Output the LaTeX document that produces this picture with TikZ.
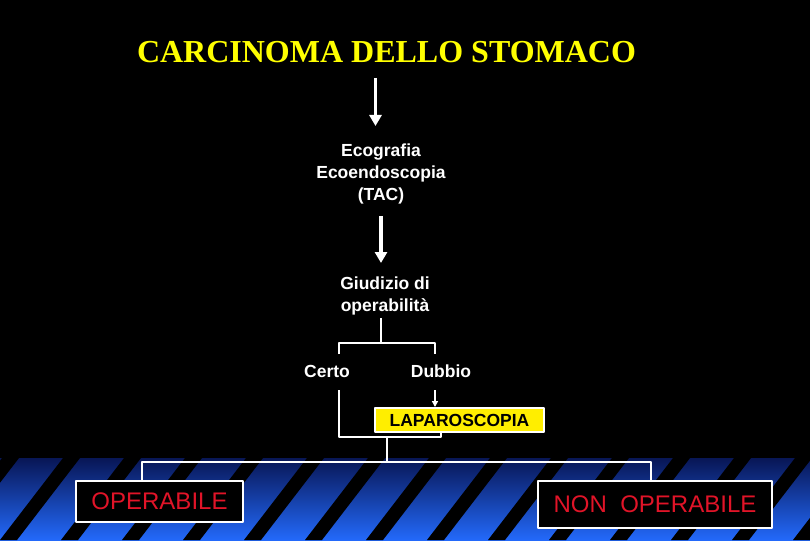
\documentclass[tikz,border=0pt]{standalone}
\usepackage{fontspec}
\setmainfont{Liberation Sans}
\newfontfamily\titlefont{Liberation Serif}
\usetikzlibrary{arrows.meta,positioning}
\definecolor{titleyel}{RGB}{255,255,0}
\definecolor{lapyel}{RGB}{255,238,0}
\definecolor{outred}{RGB}{225,20,40}
\definecolor{bandtop}{RGB}{8,22,85}
\definecolor{bandbot}{RGB}{35,105,250}
\begin{document}
\begin{tikzpicture}[x=1pt, y=-1pt, line join=round,
    txt/.style={text=white, font=\bfseries\fontsize{17.5}{22}\selectfont, align=center, inner sep=0pt},
    wire/.style={draw=white, line width=2pt},
    bigarrow/.style={draw=white, line width=3.5pt, -{Triangle[width=12pt,length=11pt]}},
    smallarrow/.style={draw=white, line width=1.5pt, -{Triangle[width=6pt,length=6pt]}},
    resbox/.style={draw=white, line width=2pt, fill=black, text=outred, font=\fontsize{24}{28}\selectfont, inner sep=0pt}]
  \def\bandy{458} % inizio fascia blu
  \useasboundingbox (0,0) rectangle (810,540);
  \fill[black] (0,0) rectangle (810,540);
  \shade[top color=bandtop, bottom color=bandbot] (0,\bandy) rectangle (810,540);
  \begin{scope}
    \clip (0,\bandy) rectangle (810,540);
    \foreach \i in {-1,...,14}
      \fill[black] (\i*61+63,\bandy) -- ++(17,0) -- ++(-63,82) -- ++(-17,0) -- cycle;
  \end{scope}

  \node[font=\titlefont\bfseries\fontsize{32}{36}\selectfont, text=titleyel, inner sep=0pt] (title) at (386.5,52.5) {CARCINOMA DELLO STOMACO};
  \node[txt, anchor=north] (eco) at (381,144) {Ecografia\\Ecoendoscopia\\(TAC)};
  \node[txt, anchor=north] (giud) at (385,277) {Giudizio di\\operabilità};
  \node[txt, anchor=base] (certo) at (327,377) {Certo};
  \node[txt, anchor=base] (dubbio) at (441,377) {Dubbio};
  \node[draw=white, line width=2pt, fill=lapyel, font=\bfseries\fontsize{17.5}{20}\selectfont, minimum width=169pt, minimum height=24pt, inner sep=0pt] (lap) at (459.5,420) {LAPAROSCOPIA};
  \node[resbox, minimum width=167pt, minimum height=41pt] (oper) at (159.5,501.5) {OPERABILE};
  \node[resbox, minimum width=234pt, minimum height=47pt] (nonop) at (655,504.5) {NON~~OPERABILE};

  \coordinate (a1) at (375.5,78);
  \coordinate (a2) at (381,216);
  \draw[bigarrow, shorten >=18pt] (a1) -- (a1 |- eco.north);
  \draw[bigarrow, shorten >=14pt] (a2) -- (a2 |- giud.north);

  \coordinate (g0) at (381,318);
  \coordinate (g1) at (381,343);
  \coordinate (c0) at (339,354);
  \coordinate (d0) at (435,354);
  \draw[wire] (g0) -- (g1);
  \draw[wire] (c0) |- (d0 |- g1) -- (d0);

  \coordinate (c1) at (339,390);
  \coordinate (l0) at (441,437);
  \coordinate (d1) at (435,390);
  \draw[wire] (c1) |- (l0) -- (l0 |- lap.south);
  \draw[smallarrow] (d1) -- (d1 |- lap.north);

  \coordinate (m0) at (387,437);
  \coordinate (o0) at (141.5,462);
  \coordinate (n0) at (651,462);
  \draw[wire] (m0) -- (m0 |- o0);
  \draw[wire] (o0 |- oper.north) -- (o0) -- (n0) -- (n0 |- nonop.north);
\end{tikzpicture}
\end{document}
